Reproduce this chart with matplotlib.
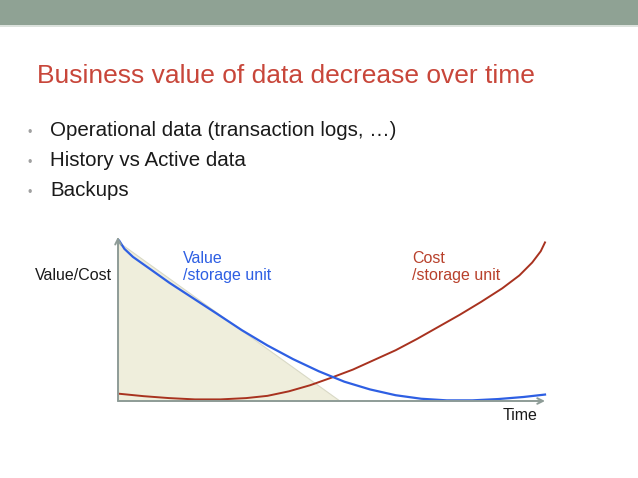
import matplotlib
matplotlib.use("Agg")
import matplotlib.pyplot as plt
from matplotlib.patches import Rectangle

plt.rcParams['font.family'] = ['Liberation Sans', 'DejaVu Sans']

# slide text
title = "Business value of data decrease over time"
bullets = ["Operational data (transaction logs, \u2026)",
           "History vs Active data",
           "Backups"]

# curves (time 0..10, value 0..10)
value_t = [0.03, 0.15, 0.35, 0.75, 1.2, 1.75, 2.3, 2.9, 3.5, 4.1, 4.7, 5.3,
           5.9, 6.5, 7.1, 7.7, 8.3, 8.9, 9.5, 10.0]
value_y = [9.95, 9.45, 8.95, 8.2, 7.35, 6.4, 5.45, 4.4, 3.45, 2.6, 1.85, 1.2,
           0.72, 0.36, 0.14, 0.04, 0.04, 0.12, 0.25, 0.4]

cost_t = [0.03, 0.6, 1.2, 1.8, 2.4, 3.0, 3.5, 4.0, 4.5, 5.0, 5.5, 6.0, 6.5,
          7.0, 7.5, 8.0, 8.5, 9.0, 9.4, 9.7, 9.9, 10.0]
cost_y = [0.45, 0.3, 0.18, 0.1, 0.1, 0.18, 0.32, 0.6, 0.98, 1.45, 1.95, 2.55,
          3.15, 3.85, 4.6, 5.35, 6.15, 7.0, 7.8, 8.6, 9.3, 9.85]

# shaded triangle
shade_t = [0.0, 5.2]
shade_y = [9.9, 0.0]

W, H = 638, 478
fig = plt.figure(figsize=(W / 100, H / 100), dpi=100)
fig.patch.set_facecolor("white")


def fx(px):
    return px / W


def fy(py):
    return 1 - py / H


# header bar
fig.patches.append(Rectangle((0, fy(25)), 1, 25 / H, transform=fig.transFigure,
                             facecolor="#8FA294", edgecolor="none"))
fig.patches.append(Rectangle((0, fy(27)), 1, 2 / H, transform=fig.transFigure,
                             facecolor="#DCE2DD", edgecolor="none"))

fig.text(fx(37), fy(83), title, color="#C8463A", fontsize=19, va="baseline")

for i, b in enumerate(bullets):
    yb = 136 + i * 30
    fig.text(fx(27), fy(yb), "\u2022", color="#A0A0A0", fontsize=9, va="baseline")
    fig.text(fx(50), fy(yb), b, color="#1A1A1A", fontsize=14.8, va="baseline")

# chart area
ax = fig.add_axes([fx(118), fy(401), 427 / W, 161 / H])
ax.set_xlim(0, 10)
ax.set_ylim(0, 10)
ax.axis("off")

ax.fill_between(shade_t, shade_y, 0, color="#EFEEDC", edgecolor="#D9D9C6",
                linewidth=0.8, zorder=1)
ax.plot(value_t, value_y, color="#2E5FE3", linewidth=1.6, zorder=3, clip_on=False)
ax.plot(cost_t, cost_y, color="#A8321F", linewidth=1.4, zorder=2, clip_on=False)

axis_col = "#8E9C97"
ax.annotate("", xy=(1.0, 0), xytext=(0, 0), xycoords="axes fraction",
            arrowprops=dict(arrowstyle="->", color=axis_col, lw=1.4,
                            shrinkA=0, shrinkB=0))
ax.annotate("", xy=(0, 1.02), xytext=(0, 0), xycoords="axes fraction",
            arrowprops=dict(arrowstyle="->", color=axis_col, lw=1.4,
                            shrinkA=0, shrinkB=0))

fig.text(fx(35), fy(276), "Value/Cost", color="#1A1A1A", fontsize=11.5, va="center")
fig.text(fx(183), fy(267), "Value\n/storage unit", color="#2E5FE3", fontsize=11.5,
         va="center", linespacing=1.2)
fig.text(fx(412), fy(267), "Cost\n/storage unit", color="#B8412C", fontsize=11.5,
         va="center", linespacing=1.2)
fig.text(fx(503), fy(415), "Time", color="#1A1A1A", fontsize=11.5, va="center")

fig.savefig("out.png", dpi=100)
